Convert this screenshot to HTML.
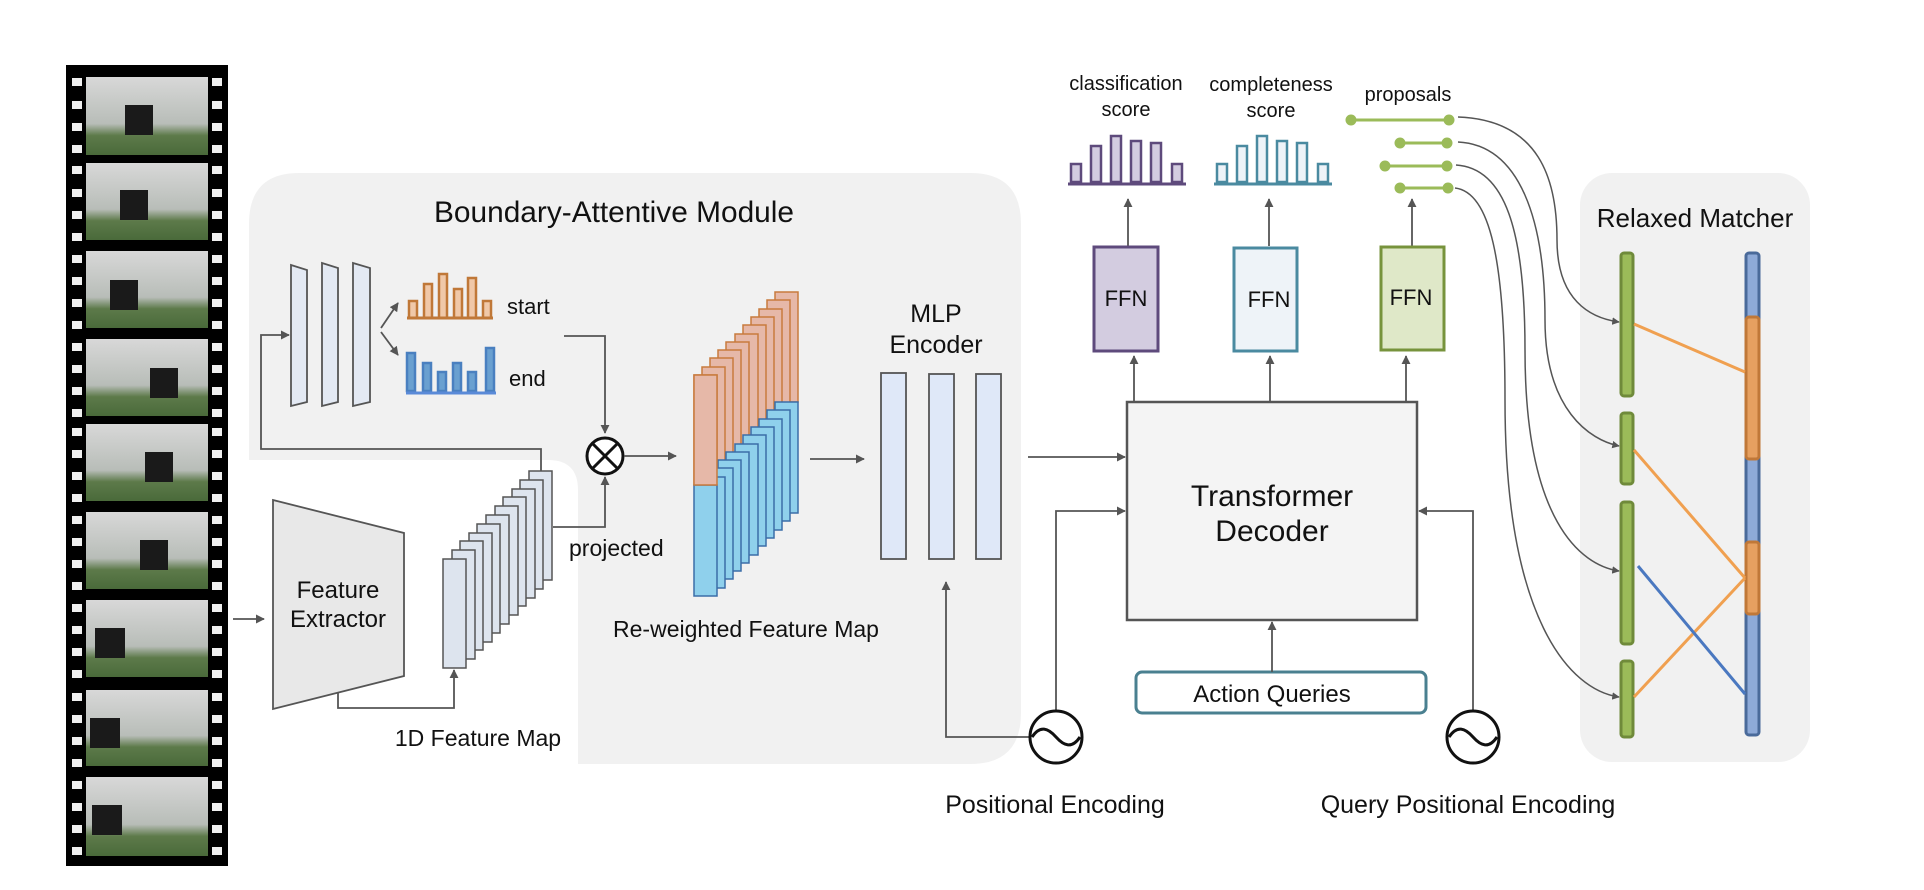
<!DOCTYPE html>
<html><head><meta charset="utf-8"><style>
html,body{margin:0;padding:0;background:#fff;}
svg{display:block;}
text{font-family:"Liberation Sans",sans-serif;fill:#111;}
</style></head><body>
<svg width="1924" height="890" viewBox="0 0 1924 890" xmlns="http://www.w3.org/2000/svg">
<defs>
<marker id="a" viewBox="0 0 10 10" refX="9" refY="5" markerWidth="5" markerHeight="5" orient="auto"><path d="M0,0L10,5L0,10z" fill="#555"/></marker>
<linearGradient id="fr" x1="0" y1="0" x2="0" y2="1"><stop offset="0" stop-color="#d8d8d8"/><stop offset="0.6" stop-color="#b8bdb8"/><stop offset="0.75" stop-color="#5d7a4a"/><stop offset="1" stop-color="#4a6a3a"/></linearGradient>
</defs>

<path d="M299,173 H970 Q1021,173 1021,224 V713 Q1021,764 970,764 H578 V490 Q578,460 548,460 H249 V224 Q249,173 299,173Z" fill="#f1f1f1"/>
<text x="614" y="222" font-size="30" text-anchor="middle" textLength="360" lengthAdjust="spacingAndGlyphs">Boundary-Attentive Module</text>

<rect x="1580" y="173" width="230" height="589" rx="32" fill="#f1f1f1"/>
<text x="1695" y="227" font-size="26" text-anchor="middle">Relaxed Matcher</text>

<rect x="66" y="65" width="162" height="801" fill="#000"/>
<g fill="url(#fr)">
<rect x="86" y="77" width="122" height="78"/><rect x="86" y="163" width="122" height="77"/><rect x="86" y="251" width="122" height="77"/>
<rect x="86" y="339" width="122" height="77"/><rect x="86" y="424" width="122" height="77"/><rect x="86" y="512" width="122" height="77"/>
<rect x="86" y="600" width="122" height="77"/><rect x="86" y="690" width="122" height="76"/><rect x="86" y="777" width="122" height="79"/>
</g>
<g fill="#1a1a1a">
<rect x="125" y="105" width="28" height="30"/><rect x="120" y="190" width="28" height="30"/><rect x="110" y="280" width="28" height="30"/>
<rect x="150" y="368" width="28" height="30"/><rect x="145" y="452" width="28" height="30"/><rect x="140" y="540" width="28" height="30"/>
<rect x="95" y="628" width="30" height="30"/><rect x="90" y="718" width="30" height="30"/><rect x="92" y="805" width="30" height="30"/>
</g>
<g fill="#f0f0f0" id="perf">
<rect x="72" y="78" width="10" height="8"/><rect x="72" y="101" width="10" height="8"/><rect x="72" y="123" width="10" height="8"/><rect x="72" y="145" width="10" height="8"/>
<rect x="72" y="166" width="10" height="8"/><rect x="72" y="189" width="10" height="8"/><rect x="72" y="211" width="10" height="8"/><rect x="72" y="233" width="10" height="8"/>
<rect x="72" y="255" width="10" height="8"/><rect x="72" y="277" width="10" height="8"/><rect x="72" y="299" width="10" height="8"/><rect x="72" y="321" width="10" height="8"/>
<rect x="72" y="343" width="10" height="8"/><rect x="72" y="365" width="10" height="8"/><rect x="72" y="387" width="10" height="8"/><rect x="72" y="409" width="10" height="8"/>
<rect x="72" y="428" width="10" height="8"/><rect x="72" y="450" width="10" height="8"/><rect x="72" y="472" width="10" height="8"/><rect x="72" y="494" width="10" height="8"/>
<rect x="72" y="516" width="10" height="8"/><rect x="72" y="538" width="10" height="8"/><rect x="72" y="560" width="10" height="8"/><rect x="72" y="582" width="10" height="8"/>
<rect x="72" y="604" width="10" height="8"/><rect x="72" y="626" width="10" height="8"/><rect x="72" y="648" width="10" height="8"/><rect x="72" y="670" width="10" height="8"/>
<rect x="72" y="693" width="10" height="8"/><rect x="72" y="715" width="10" height="8"/><rect x="72" y="737" width="10" height="8"/><rect x="72" y="759" width="10" height="8"/>
<rect x="72" y="781" width="10" height="8"/><rect x="72" y="803" width="10" height="8"/><rect x="72" y="825" width="10" height="8"/><rect x="72" y="847" width="10" height="8"/>
</g>
<use href="#perf" x="140"/>

<g fill="#e3e9f3" stroke="#555" stroke-width="1.8">
<path d="M291,265 L307,270 V402 L291,406Z"/><path d="M322,263 L338,268 V402 L322,406Z"/><path d="M353,263 L370,268 V402 L353,406Z"/>
</g>
<line x1="381" y1="328" x2="398" y2="303" stroke="#555" stroke-width="1.8" marker-end="url(#a)"/>
<line x1="381" y1="332" x2="398" y2="355" stroke="#555" stroke-width="1.8" marker-end="url(#a)"/>

<g fill="#f0c8a8" stroke="#c07838" stroke-width="2.5">
<rect x="409" y="301" width="8" height="17"/><rect x="424" y="284" width="8" height="34"/><rect x="439" y="274" width="8" height="44"/>
<rect x="454" y="289" width="8" height="29"/><rect x="468" y="278" width="8" height="40"/><rect x="483" y="301" width="8" height="17"/>
</g>
<line x1="407" y1="318" x2="493" y2="318" stroke="#c07838" stroke-width="3"/>
<text x="507" y="314" font-size="22">start</text>
<g fill="#6aa0d0" stroke="#4a80c0" stroke-width="2.5">
<rect x="407" y="353" width="8" height="38"/><rect x="423" y="363" width="8" height="28"/><rect x="438" y="372" width="8" height="19"/>
<rect x="453" y="363" width="8" height="28"/><rect x="468" y="372" width="8" height="19"/><rect x="486" y="348" width="8" height="43"/>
</g>
<line x1="406" y1="393" x2="496" y2="393" stroke="#5a8ad8" stroke-width="3"/>
<text x="509" y="386" font-size="22">end</text>

<polyline points="564,336 605,336 605,433" fill="none" stroke="#555" stroke-width="1.8" marker-end="url(#a)"/>
<circle cx="605" cy="456" r="18" fill="#fff" stroke="#111" stroke-width="3"/>
<line x1="592" y1="443" x2="618" y2="469" stroke="#111" stroke-width="3"/><line x1="618" y1="443" x2="592" y2="469" stroke="#111" stroke-width="3"/>
<line x1="624" y1="456" x2="676" y2="456" stroke="#555" stroke-width="1.8" marker-end="url(#a)"/>

<polyline points="541,471 541,449 261,449 261,335 289,335" fill="none" stroke="#555" stroke-width="1.8" marker-end="url(#a)"/>
<polyline points="553,527 605,527 605,477" fill="none" stroke="#555" stroke-width="1.8" marker-end="url(#a)"/>
<text x="569" y="556" font-size="23">projected</text>

<line x1="233" y1="619" x2="264" y2="619" stroke="#555" stroke-width="1.8" marker-end="url(#a)"/>
<path d="M273,500 L404,533 V676 L273,709Z" fill="#e8e8e8" stroke="#555" stroke-width="1.8"/>
<text x="338" y="598" font-size="24" text-anchor="middle">Feature</text>
<text x="338" y="627" font-size="24" text-anchor="middle">Extractor</text>
<polyline points="338,692 338,708 454,708 454,670" fill="none" stroke="#555" stroke-width="1.8" marker-end="url(#a)"/>

<g fill="#dde4ee" stroke="#555" stroke-width="1.5">
<rect x="529" y="471" width="23" height="109"/><rect x="520" y="480" width="23" height="109"/><rect x="512" y="489" width="23" height="109"/>
<rect x="503" y="497" width="23" height="109"/><rect x="495" y="506" width="23" height="109"/><rect x="486" y="515" width="23" height="109"/>
<rect x="477" y="524" width="23" height="109"/><rect x="469" y="533" width="23" height="109"/><rect x="460" y="541" width="23" height="109"/>
<rect x="452" y="550" width="23" height="109"/><rect x="443" y="559" width="23" height="109"/>
</g>
<text x="478" y="746" font-size="23" text-anchor="middle">1D Feature Map</text>

<g fill="#e6b8a8" stroke="#c87a3d" stroke-width="1.5">
<rect x="775" y="292" width="23" height="110"/><rect x="767" y="300" width="23" height="110"/><rect x="759" y="309" width="23" height="110"/>
<rect x="751" y="317" width="23" height="110"/><rect x="743" y="325" width="23" height="110"/><rect x="735" y="334" width="23" height="110"/>
<rect x="726" y="342" width="23" height="110"/><rect x="718" y="350" width="23" height="110"/><rect x="710" y="358" width="23" height="110"/>
<rect x="702" y="367" width="23" height="110"/><rect x="694" y="375" width="23" height="110"/>
</g>
<g fill="#8fd0ec" stroke="#3b6da8" stroke-width="1.5">
<rect x="775" y="402" width="23" height="111"/><rect x="767" y="410" width="23" height="111"/><rect x="759" y="419" width="23" height="111"/>
<rect x="751" y="427" width="23" height="111"/><rect x="743" y="435" width="23" height="111"/><rect x="735" y="444" width="23" height="111"/>
<rect x="726" y="452" width="23" height="111"/><rect x="718" y="460" width="23" height="111"/><rect x="710" y="468" width="23" height="111"/>
<rect x="702" y="477" width="23" height="111"/><rect x="694" y="485" width="23" height="111"/>
</g>
<rect x="694" y="375" width="23" height="110" fill="#e6b8a8" stroke="#c87a3d" stroke-width="1.5"/>
<text x="746" y="637" font-size="23" text-anchor="middle">Re-weighted Feature Map</text>
<line x1="810" y1="459" x2="864" y2="459" stroke="#555" stroke-width="1.8" marker-end="url(#a)"/>

<text x="936" y="322" font-size="25" text-anchor="middle">MLP</text>
<text x="936" y="353" font-size="25" text-anchor="middle">Encoder</text>
<g fill="#dfe8f8" stroke="#555" stroke-width="1.8">
<rect x="881" y="373" width="25" height="186"/><rect x="929" y="374" width="25" height="185"/><rect x="976" y="374" width="25" height="185"/>
</g>
<polyline points="1029,737 946,737 946,582" fill="none" stroke="#555" stroke-width="1.8" marker-end="url(#a)"/>
<line x1="1028" y1="457" x2="1125" y2="457" stroke="#555" stroke-width="1.8" marker-end="url(#a)"/>

<rect x="1127" y="402" width="290" height="218" fill="#f4f4f4" stroke="#555" stroke-width="2.5"/>
<text x="1272" y="506" font-size="30" text-anchor="middle">Transformer</text>
<text x="1272" y="541" font-size="30" text-anchor="middle">Decoder</text>
<rect x="1136" y="672" width="290" height="41" rx="6" fill="#fff" stroke="#4a8090" stroke-width="3"/>
<text x="1272" y="702" font-size="24" text-anchor="middle">Action Queries</text>
<line x1="1272" y1="672" x2="1272" y2="622" stroke="#555" stroke-width="1.8" marker-end="url(#a)"/>

<polyline points="1056,710 1056,511 1125,511" fill="none" stroke="#555" stroke-width="1.8" marker-end="url(#a)"/>
<polyline points="1473,710 1473,511 1419,511" fill="none" stroke="#555" stroke-width="1.8" marker-end="url(#a)"/>
<g fill="#fff" stroke="#111" stroke-width="3">
<circle cx="1056" cy="737" r="26"/><circle cx="1473" cy="737" r="26"/>
</g>
<g fill="none" stroke="#111" stroke-width="3">
<path d="M1032,737 C1040,725 1048,728 1056,737 C1064,746 1072,749 1080,737"/>
<path d="M1449,737 C1457,725 1465,728 1473,737 C1481,746 1489,749 1497,737"/>
</g>
<text x="1055" y="813" font-size="25" text-anchor="middle">Positional Encoding</text>
<text x="1468" y="813" font-size="25" text-anchor="middle">Query Positional Encoding</text>

<g stroke="#555" stroke-width="1.8" marker-end="url(#a)">
<line x1="1134" y1="402" x2="1134" y2="356"/><line x1="1270" y1="402" x2="1270" y2="356"/><line x1="1406" y1="402" x2="1406" y2="356"/>
<line x1="1128" y1="246" x2="1128" y2="199"/><line x1="1269" y1="246" x2="1269" y2="199"/><line x1="1412" y1="246" x2="1412" y2="199"/>
</g>
<rect x="1094" y="247" width="64" height="104" fill="#d3cce0" stroke="#5e4a7c" stroke-width="3"/>
<rect x="1234" y="248" width="63" height="103" fill="#eef3f8" stroke="#4a8aa0" stroke-width="3"/>
<rect x="1381" y="247" width="63" height="103" fill="#dfe8c8" stroke="#77933c" stroke-width="3"/>
<text x="1126" y="306" font-size="22" text-anchor="middle">FFN</text>
<text x="1269" y="307" font-size="22" text-anchor="middle">FFN</text>
<text x="1411" y="305" font-size="22" text-anchor="middle">FFN</text>

<text x="1126" y="90" font-size="20" text-anchor="middle">classification</text>
<text x="1126" y="116" font-size="20" text-anchor="middle">score</text>
<text x="1271" y="91" font-size="20" text-anchor="middle">completeness</text>
<text x="1271" y="117" font-size="20" text-anchor="middle">score</text>
<text x="1408" y="101" font-size="20" text-anchor="middle">proposals</text>

<g fill="#d3cce0" stroke="#5e4a7c" stroke-width="2.5">
<rect x="1071" y="164" width="10" height="18"/><rect x="1091" y="146" width="10" height="36"/><rect x="1111" y="136" width="10" height="46"/>
<rect x="1131" y="141" width="10" height="41"/><rect x="1151" y="143" width="10" height="39"/><rect x="1172" y="164" width="10" height="18"/>
</g>
<line x1="1068" y1="184" x2="1186" y2="184" stroke="#5e4a7c" stroke-width="3"/>
<g fill="#eef3f8" stroke="#4a8aa0" stroke-width="2.5">
<rect x="1217" y="164" width="10" height="18"/><rect x="1237" y="146" width="10" height="36"/><rect x="1257" y="136" width="10" height="46"/>
<rect x="1277" y="141" width="10" height="41"/><rect x="1297" y="143" width="10" height="39"/><rect x="1318" y="164" width="10" height="18"/>
</g>
<line x1="1214" y1="184" x2="1332" y2="184" stroke="#4a8aa0" stroke-width="3"/>

<g stroke="#9bbb59" stroke-width="3" fill="#9bbb59">
<line x1="1351" y1="120" x2="1449" y2="120"/><circle cx="1351" cy="120" r="4"/><circle cx="1449" cy="120" r="4"/>
<line x1="1400" y1="143" x2="1447" y2="143"/><circle cx="1400" cy="143" r="4"/><circle cx="1447" cy="143" r="4"/>
<line x1="1385" y1="166" x2="1447" y2="166"/><circle cx="1385" cy="166" r="4"/><circle cx="1447" cy="166" r="4"/>
<line x1="1400" y1="188" x2="1448" y2="188"/><circle cx="1400" cy="188" r="4"/><circle cx="1448" cy="188" r="4"/>
</g>
<g fill="none" stroke="#555" stroke-width="1.5" marker-end="url(#a)">
<path d="M1458,117 C1540,120 1557,180 1557,240 C1557,300 1590,318 1619,322"/>
<path d="M1458,142 C1520,145 1545,220 1545,320 C1545,410 1590,440 1619,446"/>
<path d="M1456,165 C1505,168 1525,230 1525,350 C1525,520 1580,565 1619,571"/>
<path d="M1455,188 C1490,192 1505,260 1505,400 C1505,620 1570,690 1619,697"/>
</g>

<g fill="#9bbb59" stroke="#6f8a3a" stroke-width="3">
<rect x="1621" y="253" width="12" height="143" rx="3"/><rect x="1621" y="413" width="12" height="71" rx="3"/>
<rect x="1621" y="502" width="12" height="142" rx="3"/><rect x="1621" y="661" width="12" height="76" rx="3"/>
</g>
<rect x="1746" y="253" width="13" height="482" rx="3" fill="#8eaad8" stroke="#4a6a9a" stroke-width="3"/>
<g fill="#e6a060" stroke="#c07838" stroke-width="3">
<rect x="1746" y="317" width="13" height="142" rx="3"/><rect x="1746" y="542" width="13" height="72" rx="3"/>
</g>
<g stroke-width="3">
<line x1="1634" y1="324" x2="1745" y2="372" stroke="#f0a050"/>
<line x1="1634" y1="450" x2="1745" y2="578" stroke="#f0a050"/>
<line x1="1634" y1="697" x2="1745" y2="578" stroke="#f0a050"/>
<line x1="1638" y1="566" x2="1745" y2="694" stroke="#4a78c0"/>
</g>
</svg>
</body></html>
